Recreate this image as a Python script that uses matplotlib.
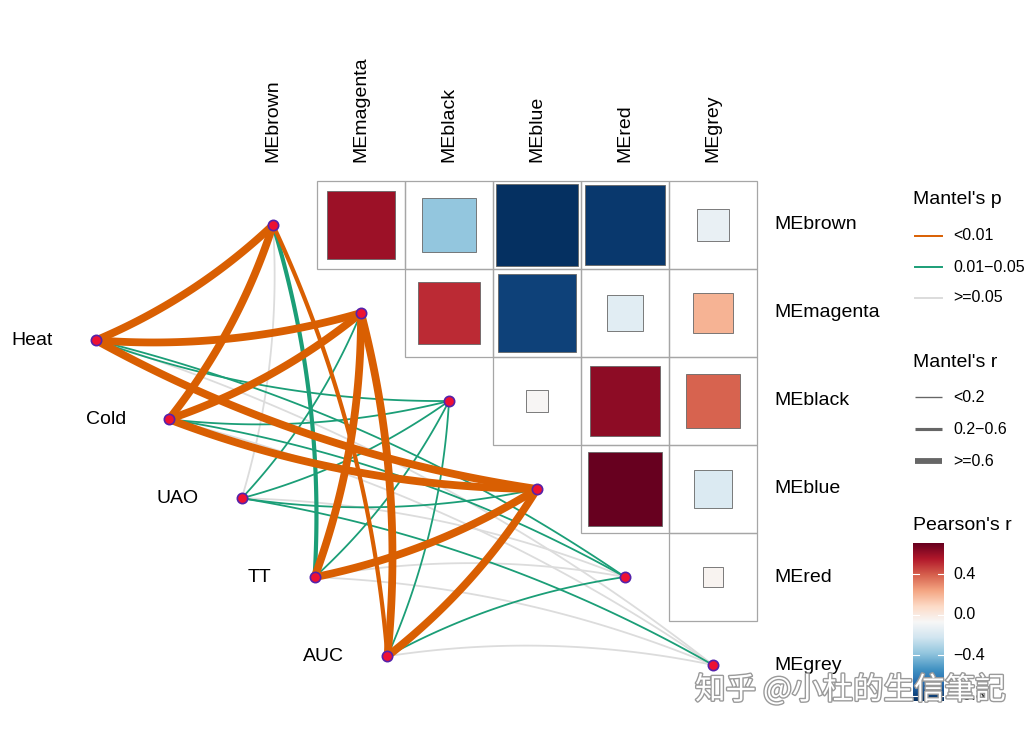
import numpy as np
import matplotlib
matplotlib.use("Agg")
import matplotlib.pyplot as plt
from matplotlib.colors import LinearSegmentedColormap, Normalize
from matplotlib.lines import Line2D
import matplotlib.patheffects as pe

plt.rcParams['font.family'] = ['Liberation Sans', 'DejaVu Sans']

# ---------------------------------------------------------------
# datos
# ---------------------------------------------------------------
me_names = ["MEbrown", "MEmagenta", "MEblack", "MEblue", "MEred", "MEgrey"]
env_names = ["Heat", "Cold", "UAO", "TT", "AUC"]

# Pearson's r, triangulo superior fila por fila
pearson_r = [
    [0.60, -0.38, -0.85, -0.82, -0.13],
    [0.51, -0.80, -0.16, 0.20],
    [-0.06, 0.63, 0.39],
    [0.71, -0.18],
    [-0.05],
]

# Mantel's p (clase) env x ME
mantel_p = [
    ["<0.01", "<0.01", "0.01-0.05", "<0.01", "0.01-0.05", ">=0.05"],
    ["<0.01", "<0.01", "0.01-0.05", "<0.01", "0.01-0.05", ">=0.05"],
    [">=0.05", "0.01-0.05", "0.01-0.05", "0.01-0.05", ">=0.05", "0.01-0.05"],
    ["0.01-0.05", "<0.01", "0.01-0.05", "<0.01", ">=0.05", ">=0.05"],
    ["<0.01", "<0.01", "0.01-0.05", "<0.01", "0.01-0.05", ">=0.05"],
]
# Mantel's r (clase) env x ME
mantel_r = [
    [">=0.6", ">=0.6", "<0.2", ">=0.6", "<0.2", "<0.2"],
    [">=0.6", ">=0.6", "<0.2", ">=0.6", "<0.2", "<0.2"],
    ["<0.2", "<0.2", "<0.2", "<0.2", "<0.2", "<0.2"],
    ["0.2-0.6", ">=0.6", "<0.2", ">=0.6", "<0.2", "<0.2"],
    ["0.2-0.6", ">=0.6", "<0.2", ">=0.6", "<0.2", "<0.2"],
]

p_levels = ["<0.01", "0.01-0.05", ">=0.05"]
p_colors = {"<0.01": "#D95F02", "0.01-0.05": "#1B9E77", ">=0.05": "#DCDCDC"}
r_levels = ["<0.2", "0.2-0.6", ">=0.6"]
r_widths = {"<0.2": 1.3, "0.2-0.6": 3.0, ">=0.6": 5.6}

rdbu = ["#053061", "#2166AC", "#4393C3", "#92C5DE", "#D1E5F0", "#F7F7F7",
        "#FDDBC7", "#F4A582", "#D6604D", "#B2182B", "#67001F"]
cmap = LinearSegmentedColormap.from_list("rdbu", rdbu)
all_r = [v for fila in pearson_r for v in fila]
norm = Normalize(vmin=min(all_r), vmax=max(all_r))

# ---------------------------------------------------------------
# figura
# ---------------------------------------------------------------
W, H = 1035, 734
fig = plt.figure(figsize=(W / 100, H / 100), dpi=100)
cell = 88.0
x0px, y0px = 273.0, 225.0
ax = fig.add_axes([0, 0, 890 / W, 1])
ax.set_xlim(-x0px / cell, (890 - x0px) / cell)
ax.set_ylim((H - y0px) / cell, -y0px / cell)
ax.axis("off")

n = len(me_names)
# celdas y cuadrados
for i in range(n):
    for j in range(i + 1, n):
        ax.add_patch(plt.Rectangle((j - 0.5, i - 0.5), 1, 1, fill=False,
                                   ec="#A6A6A6", lw=0.9, zorder=1))
        r = pearson_r[i][j - i - 1]
        s = np.sqrt(abs(r))
        ax.add_patch(plt.Rectangle((j - s / 2, i - s / 2), s, s,
                                   fc=cmap(norm(r)), ec="#666666", lw=0.6,
                                   zorder=2))

# etiquetas
for k, name in enumerate(me_names):
    ax.text(k, -0.72, name, rotation=90, ha="center", va="bottom",
            fontsize=14)
    ax.text(n - 0.5 + 0.2, k, name, ha="left", va="center", fontsize=14)

# nodos ambientales
env_x = np.linspace(-2.01, 1.30, len(env_names))
env_y = np.linspace(1.31, 4.90, len(env_names))


def curva(xa, ya, xb, yb, f=0.09, m=80):
    mx, my = (xa + xb) / 2, (ya + yb) / 2
    dx, dy = xb - xa, yb - ya
    cx, cy = mx - f * dy, my + f * dx
    t = np.linspace(0, 1, m)
    xs = (1 - t) ** 2 * xa + 2 * (1 - t) * t * cx + t ** 2 * xb
    ys = (1 - t) ** 2 * ya + 2 * (1 - t) * t * cy + t ** 2 * yb
    return xs, ys


# la curvatura cambia de signo para los nodos por debajo del centro
centro = env_y.mean()
orden = {">=0.05": 3, "0.01-0.05": 4, "<0.01": 5}
for e in range(len(env_names)):
    for k in range(n):
        p = mantel_p[e][k]
        rr = mantel_r[e][k]
        f = 0.09 if k < centro else -0.09
        xs, ys = curva(env_x[e], env_y[e], k, k, f=f)
        ax.plot(xs, ys, color=p_colors[p], lw=r_widths[rr],
                solid_capstyle="butt", zorder=orden[p])

ax.scatter(env_x, env_y, s=55, c="#EE1133", edgecolors="#5522AA",
           linewidths=1.2, zorder=8)
ax.scatter(range(n), range(n), s=55, c="#EE1133", edgecolors="#5522AA",
           linewidths=1.2, zorder=8)
for e, name in enumerate(env_names):
    ax.text(env_x[e] - 0.49, env_y[e], name, ha="right", va="center",
            fontsize=14)

# ---------------------------------------------------------------
# leyendas
# ---------------------------------------------------------------
def fx(px):
    return px / W


def fy(py):
    return 1 - py / H


fig.text(fx(913), fy(200), "Mantel's p", fontsize=14, va="center")
for q, lev in enumerate(p_levels):
    yy = 236 + q * 31
    fig.add_artist(Line2D([fx(915), fx(942)], [fy(yy), fy(yy)],
                          color=p_colors[lev], lw=1.4))
    fig.text(fx(953), fy(yy), lev.replace("-", "\u2212"), fontsize=11.5,
             va="center")

fig.text(fx(913), fy(362), "Mantel's r", fontsize=14, va="center")
for q, lev in enumerate(r_levels):
    yy = 397 + q * 32
    fig.add_artist(Line2D([fx(915), fx(942)], [fy(yy), fy(yy)],
                          color="#666666", lw=r_widths[lev] * 0.75,
                          solid_capstyle="butt"))
    fig.text(fx(953), fy(yy), lev.replace("-", "\u2212"), fontsize=11.5,
             va="center")

fig.text(fx(913), fy(525), "Pearson's r", fontsize=14, va="center")
cax = fig.add_axes([fx(913), fy(701), 31 / W, 158 / H])
grad = np.linspace(norm.vmin, norm.vmax, 256).reshape(-1, 1)
cax.imshow(grad, cmap=cmap, norm=norm, aspect="auto", origin="lower",
           extent=[0, 1, norm.vmin, norm.vmax])
cax.set_xlim(0, 1)
cax.set_ylim(norm.vmin, norm.vmax)
for t in [-0.8, -0.4, 0.0, 0.4]:
    cax.plot([0, 0.2], [t, t], color="white", lw=0.8)
    cax.plot([0.8, 1], [t, t], color="white", lw=0.8)
    fig.text(fx(953), fy(701) + (t - norm.vmin) / (norm.vmax - norm.vmin) * 158 / H,
             f"{t:.1f}".replace("-", "\u2212"), fontsize=11.5, va="center")
cax.axis("off")

# marca de agua
fig.text(fx(695), fy(690), "知乎 @小杜的生信筆記", fontsize=22,
         family=["Noto Sans CJK SC", "DejaVu Sans"], color="white",
         va="center", ha="left", zorder=20,
         path_effects=[pe.withStroke(linewidth=2, foreground="#9A9A9A")])

fig.savefig("out.png", dpi=100)
